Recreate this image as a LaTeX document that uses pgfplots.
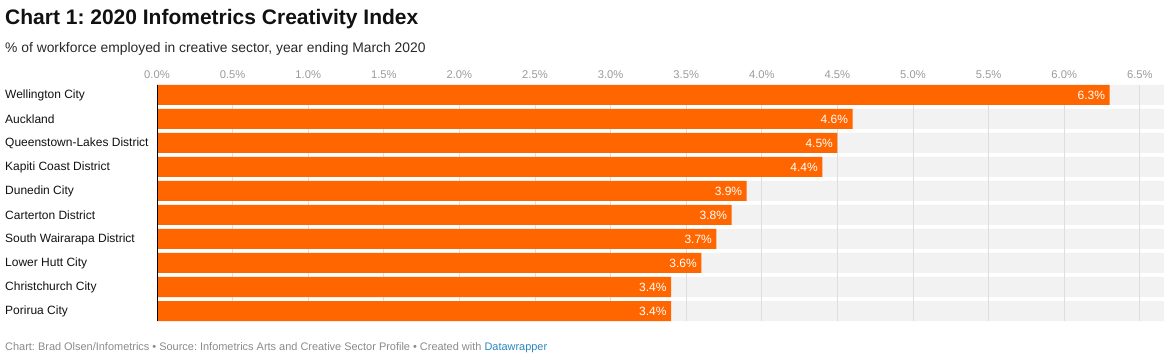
\documentclass[border=0pt]{standalone}
\usepackage{pgfplots}
\pgfplotsset{compat=1.18}
\usepackage{fontspec}
\setmainfont{Liberation Sans}
\frenchspacing
\definecolor{barorange}{HTML}{FF6600}
\definecolor{bandgray}{HTML}{F2F2F2}
\definecolor{gridgray}{HTML}{DEDEDE}
\definecolor{ticklab}{HTML}{9A9A9A}
\definecolor{foot}{HTML}{8A8A8A}
\definecolor{dwblue}{HTML}{2A86C0}
\definecolor{titlecol}{HTML}{111111}
\begin{document}
\begin{tikzpicture}[x=1pt,y=1pt]
\path[use as bounding box] (0,0) rectangle (1164,353);
\node[anchor=base west, inner sep=0, text=titlecol, font=\fontsize{21}{24}\selectfont\bfseries] at (5,328) {Chart 1: 2020 Infometrics Creativity Index};
\node[anchor=base west, inner sep=0, text=titlecol!90, font=\fontsize{13.85}{16}\selectfont] at (5,300) {\% of workforce employed in creative sector, year ending March 2020};
\node[anchor=base west, inner sep=0, text=foot, font=\fontsize{10.95}{12}\selectfont] at (5,2.5) {Chart: Brad Olsen/Infometrics • Source: Infometrics Arts and Creative Sector Profile • Created with \textcolor{dwblue}{Datawrapper}};
\begin{axis}[
  at={(157pt,32pt)}, anchor=south west,
  scale only axis, width=1007pt, height=236pt,
  xmin=0, xmax=6.66, ymin=-0.4167, ymax=9.4167,
  y dir=reverse,
  axis line style={draw=none},
  major tick length=0pt,
  xtick={0,0.5,1,1.5,2,2.5,3,3.5,4,4.5,5,5.5,6,6.5},
  xticklabel pos=upper,
  xticklabel={\pgfmathprintnumber[fixed,fixed zerofill,precision=1]{\tick}\%},
  /pgf/number format/assume math mode=true,
  xticklabel style={text=ticklab, font=\fontsize{11.2}{13}\selectfont, yshift=2.5pt},
  ytick={0,1,2,3,4,5,6,7,8,9},
  yticklabels={Wellington City,Auckland,Queenstown-Lakes District,Kapiti Coast District,Dunedin City,Carterton District,South Wairarapa District,Lower Hutt City,Christchurch City,Porirua City},
  yticklabel style={anchor=west, inner sep=0pt, xshift=-152pt, text=titlecol, font=\fontsize{12}{14}\selectfont},
]
\addplot[xbar, bar width=20pt, bar shift=0pt, fill=bandgray, draw=none] coordinates {
(6.66,0) (6.66,1) (6.66,2) (6.66,3) (6.66,4) (6.66,5) (6.66,6) (6.66,7) (6.66,8) (6.66,9)};
\pgfplotsinvokeforeach{0.5,1,1.5,2,2.5,3,3.5,4,4.5,5,5.5,6,6.5}{
\addplot[gridgray, line width=0.7pt, mark=none] coordinates {(#1,-0.4167) (#1,9.4167)};
}
\addplot[xbar, bar width=20pt, bar shift=0pt, fill=barorange, draw=none,
  nodes near coords={\pgfmathprintnumber[fixed,fixed zerofill,precision=1]{\pgfplotspointmeta}\%},
  nodes near coords style={anchor=east, text=white, xshift=-1pt, font=\fontsize{12}{14}\selectfont, /pgf/number format/assume math mode=true},
  point meta=x] coordinates {
(6.3,0) (4.6,1) (4.5,2) (4.4,3) (3.9,4) (3.8,5) (3.7,6) (3.6,7) (3.4,8) (3.4,9)};
\addplot[black, line width=1pt, mark=none] coordinates {(0,-0.4167) (0,9.4167)};
\end{axis}
\end{tikzpicture}
\end{document}
